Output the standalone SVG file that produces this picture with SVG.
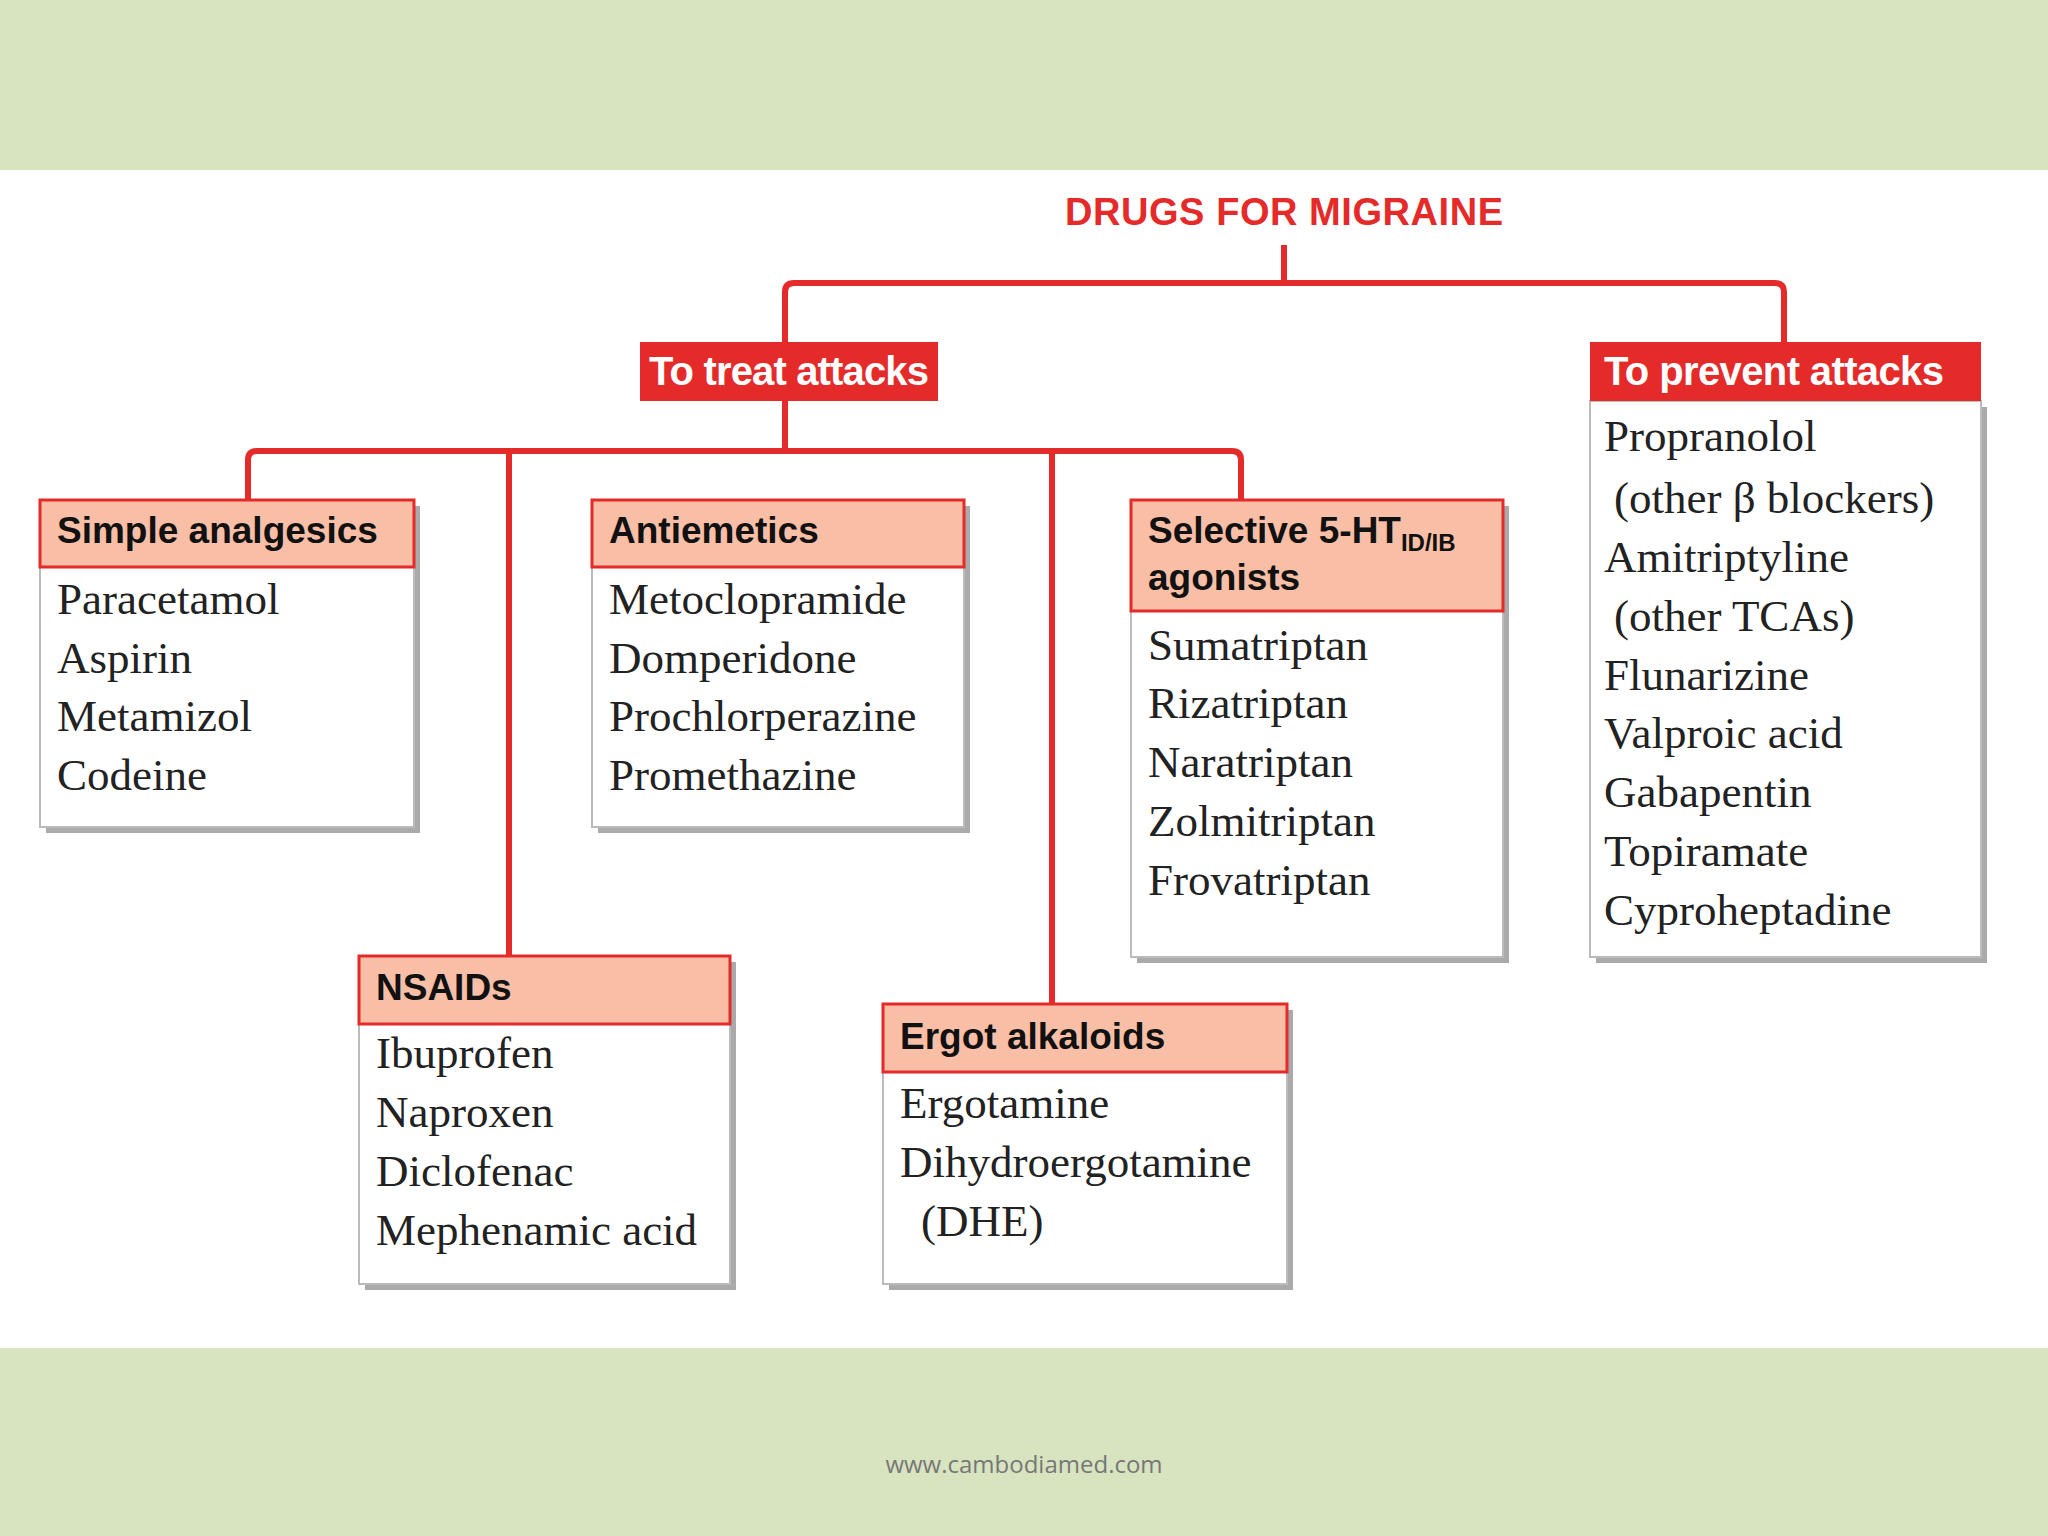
<svg xmlns="http://www.w3.org/2000/svg" width="2048" height="1536" viewBox="0 0 2048 1536">
<style>
.h{font-family:"Liberation Sans",Arial,sans-serif;font-weight:bold;font-size:37px;fill:#111}
.w{font-family:"Liberation Sans",Arial,sans-serif;font-weight:bold;font-size:40px;fill:#fff}
.b{font-family:"Liberation Serif","Times New Roman",serif;font-size:45px;fill:#222}
.box{fill:#fff;stroke:#bbb;stroke-width:2}
.sh{fill:#aaa}
.hd{fill:#f9bea6;stroke:#e52a2a;stroke-width:3}
.rd{fill:#e52a2a}
.ln{fill:none;stroke:#e52a2a;stroke-width:6;stroke-linejoin:round}
</style>
<rect width="2048" height="1536" fill="#fff"/>
<rect width="2048" height="170" fill="#d8e3bf"/>
<rect y="1348" width="2048" height="188" fill="#d8e3bf"/>
<text x="1024" y="1473" text-anchor="middle" font-family="'Open Sans',sans-serif" font-size="24" fill="#777">www.cambodiamed.com</text>
<text x="1284" y="225" text-anchor="middle" font-family="'Liberation Sans',Arial,sans-serif" font-weight="bold" font-size="38" fill="#e52a2a" textLength="438">DRUGS FOR MIGRAINE</text>
<g id="connectors">
<path class="ln" d="M1284 245V283M785 342V292Q785 283 794 283H1775Q1784 283 1784 292V342"/>
<path class="ln" d="M785 401V451M248 500V460Q248 451 257 451H1232Q1241 451 1241 460V500M509 451V956M1052 451V1003"/>
</g>
<g id="treat"><rect class="rd" x="640" y="342" width="298" height="59"/><text class="w" x="789" y="385" text-anchor="middle" textLength="280">To treat attacks</text></g>
<g id="prevent"><rect class="sh" x="1596" y="407" width="391" height="556"/><rect class="box" x="1590" y="401" width="391" height="556"/>
<rect class="rd" x="1590" y="342" width="391" height="59"/><text class="w" x="1604" y="385" textLength="340">To prevent attacks</text>
<text class="b"><tspan x="1604" y="451">Propranolol</tspan><tspan x="1614" y="513">(other β blockers)</tspan><tspan x="1604" y="572">Amitriptyline</tspan><tspan x="1614" y="631">(other TCAs)</tspan><tspan x="1604" y="690">Flunarizine</tspan><tspan x="1604" y="748">Valproic acid</tspan><tspan x="1604" y="807">Gabapentin</tspan><tspan x="1604" y="866">Topiramate</tspan><tspan x="1604" y="925">Cyproheptadine</tspan></text></g>
<g id="simple"><rect class="sh" x="46" y="506" width="374" height="327"/><rect class="box" x="40" y="500" width="374" height="327"/><rect class="hd" x="40" y="500" width="374" height="67"/>
<text class="h" x="57" y="543">Simple analgesics</text>
<text class="b"><tspan x="57" y="614">Paracetamol</tspan><tspan x="57" y="673">Aspirin</tspan><tspan x="57" y="731">Metamizol</tspan><tspan x="57" y="790">Codeine</tspan></text></g>
<g id="antiemetics"><rect class="sh" x="598" y="506" width="372" height="327"/><rect class="box" x="592" y="500" width="372" height="327"/><rect class="hd" x="592" y="500" width="372" height="67"/>
<text class="h" x="609" y="543">Antiemetics</text>
<text class="b"><tspan x="609" y="614">Metoclopramide</tspan><tspan x="609" y="673">Domperidone</tspan><tspan x="609" y="731">Prochlorperazine</tspan><tspan x="609" y="790">Promethazine</tspan></text></g>
<g id="triptans"><rect class="sh" x="1137" y="506" width="372" height="457"/><rect class="box" x="1131" y="500" width="372" height="457"/><rect class="hd" x="1131" y="500" width="372" height="111"/>
<text class="h" x="1148" y="543">Selective 5-HT<tspan font-size="24" dy="8">ID/IB</tspan></text><text class="h" x="1148" y="590">agonists</text>
<text class="b"><tspan x="1148" y="660">Sumatriptan</tspan><tspan x="1148" y="718">Rizatriptan</tspan><tspan x="1148" y="777">Naratriptan</tspan><tspan x="1148" y="836">Zolmitriptan</tspan><tspan x="1148" y="895">Frovatriptan</tspan></text></g>
<g id="nsaids"><rect class="sh" x="365" y="962" width="371" height="328"/><rect class="box" x="359" y="956" width="371" height="328"/><rect class="hd" x="359" y="956" width="371" height="68"/>
<text class="h" x="376" y="1000">NSAIDs</text>
<text class="b"><tspan x="376" y="1068">Ibuprofen</tspan><tspan x="376" y="1127">Naproxen</tspan><tspan x="376" y="1186">Diclofenac</tspan><tspan x="376" y="1245">Mephenamic acid</tspan></text></g>
<g id="ergot"><rect class="sh" x="889" y="1010" width="404" height="280"/><rect class="box" x="883" y="1004" width="404" height="280"/><rect class="hd" x="883" y="1004" width="404" height="68"/>
<text class="h" x="900" y="1049">Ergot alkaloids</text>
<text class="b"><tspan x="900" y="1118">Ergotamine</tspan><tspan x="900" y="1177">Dihydroergotamine</tspan><tspan x="921" y="1236">(DHE)</tspan></text></g>
</svg>
